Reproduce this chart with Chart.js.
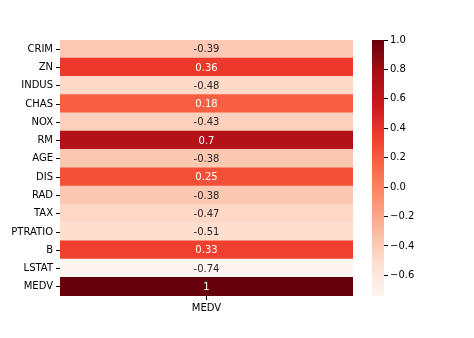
<!DOCTYPE html>
<html>
<head>
<meta charset="utf-8">
<script src="https://cdn.jsdelivr.net/npm/chart.js@4"></script>
<style>
  html, body { margin: 0; padding: 0; background: #fff; }
  #wrap { position: relative; width: 474px; height: 338px; }
  #wrap canvas { position: absolute; left: 0; top: 0; }
</style>
</head>
<body>
<div id="wrap">
  <canvas id="heat" width="474" height="338"></canvas>
  <canvas id="cbar" width="474" height="338"></canvas>
</div>
<script>
// correlation of every feature with MEDV
const features = ['CRIM', 'ZN', 'INDUS', 'CHAS', 'NOX', 'RM', 'AGE', 'DIS', 'RAD', 'TAX', 'PTRATIO', 'B', 'LSTAT', 'MEDV'];
const columns = ['MEDV'];
const corr = [-0.39, 0.36, -0.48, 0.18, -0.43, 0.7, -0.38, 0.25, -0.38, -0.47, -0.51, 0.33, -0.74, 1];
const cbarTicks = [-0.6, -0.4, -0.2, 0, 0.2, 0.4, 0.6, 0.8, 1.0];
const vmin = -0.74, vmax = 1;

// "Reds" colour map stops
const reds = ['#fff5f0', '#fee0d2', '#fcbba1', '#fc9272', '#fb6a4a', '#ef3b2c', '#cb181d', '#a50f15', '#67000d'];

function hexRgb(h) {
  return [1, 3, 5].map(i => parseInt(h.substr(i, 2), 16));
}
function redsAt(t) {
  t = Math.min(1, Math.max(0, t)) * (reds.length - 1);
  const i = Math.min(Math.floor(t), reds.length - 2);
  const f = t - i;
  const a = hexRgb(reds[i]), b = hexRgb(reds[i + 1]);
  return a.map((v, k) => Math.round(v + (b[k] - v) * f));
}
const norm = v => (v - vmin) / (vmax - vmin);
const rgbStr = c => 'rgb(' + c.join(',') + ')';
function luminance(c) {
  const lin = c.map(v => {
    v /= 255;
    return v <= 0.03928 ? v / 12.92 : Math.pow((v + 0.055) / 1.055, 2.4);
  });
  return 0.2126 * lin[0] + 0.7152 * lin[1] + 0.0722 * lin[2];
}
const fmt = v => String(Number(v.toPrecision(2)));

Chart.defaults.font.family = "'DejaVu Sans'";
Chart.defaults.font.size = 10;
Chart.defaults.color = '#000';

// write the value in the middle of each cell
const cellLabels = {
  id: 'cellLabels',
  afterDatasetsDraw(chart) {
    const ctx = chart.ctx;
    ctx.save();
    ctx.font = "10px 'DejaVu Sans'";
    ctx.textAlign = 'center';
    ctx.textBaseline = 'middle';
    chart.getDatasetMeta(0).data.forEach((bar, i) => {
      const v = corr[i];
      ctx.fillStyle = luminance(redsAt(norm(v))) < 0.408 ? '#ffffff' : '#262626';
      const p = bar.getCenterPoint();
      ctx.fillText(fmt(v), p.x, p.y + 0.5);
    });
    ctx.restore();
  }
};

new Chart(document.getElementById('heat'), {
  type: 'bar',
  data: {
    labels: features,
    datasets: [{
      data: corr.map(() => [0, 1]),
      backgroundColor: corr.map(v => rgbStr(redsAt(norm(v)))),
      borderWidth: 0,
      inflateAmount: 0.6,
      barPercentage: 1,
      categoryPercentage: 1
    }]
  },
  options: {
    indexAxis: 'y',
    responsive: false,
    animation: false,
    layout: { padding: { left: 0, right: 121, top: 40, bottom: 0 } },
    plugins: { legend: { display: false }, tooltip: { enabled: false } },
    scales: {
      x: {
        type: 'linear',
        min: 0,
        max: 1,
        afterBuildTicks: s => { s.ticks = [{ value: 0.5 }]; },
        afterFit: s => { s.height = 42; },
        ticks: { callback: () => columns[0], padding: 2, maxRotation: 0 },
        grid: { drawOnChartArea: false, tickLength: 4, color: '#000' },
        border: { display: false }
      },
      y: {
        afterFit: s => { s.width = 60; },
        ticks: { padding: 3 },
        grid: { offset: false, drawOnChartArea: false, tickLength: 4, color: '#000' },
        border: { display: false }
      }
    }
  },
  plugins: [cellLabels]
});

// colour bar
new Chart(document.getElementById('cbar'), {
  type: 'bar',
  data: {
    labels: [''],
    datasets: [{
      data: [[vmin, vmax]],
      backgroundColor: ctx => {
        const area = ctx.chart.chartArea;
        if (!area) return reds[4];
        const g = ctx.chart.ctx.createLinearGradient(0, area.bottom, 0, area.top);
        reds.forEach((c, i) => g.addColorStop(i / (reds.length - 1), c));
        return g;
      },
      borderWidth: 0,
      barPercentage: 1,
      categoryPercentage: 1
    }]
  },
  options: {
    responsive: false,
    animation: false,
    layout: { padding: { left: 372, right: 0, top: 40, bottom: 42 } },
    plugins: { legend: { display: false }, tooltip: { enabled: false } },
    scales: {
      x: { display: false },
      y: {
        position: 'right',
        min: vmin,
        max: vmax,
        afterBuildTicks: s => { s.ticks = cbarTicks.map(v => ({ value: v })); },
        afterFit: s => { s.width = 90; },
        ticks: { padding: 2, callback: v => v.toFixed(1).replace('-', '\u2212') },
        grid: { drawOnChartArea: false, tickLength: 4, color: '#000' },
        border: { display: false }
      }
    }
  }
});
</script>
</body>
</html>
